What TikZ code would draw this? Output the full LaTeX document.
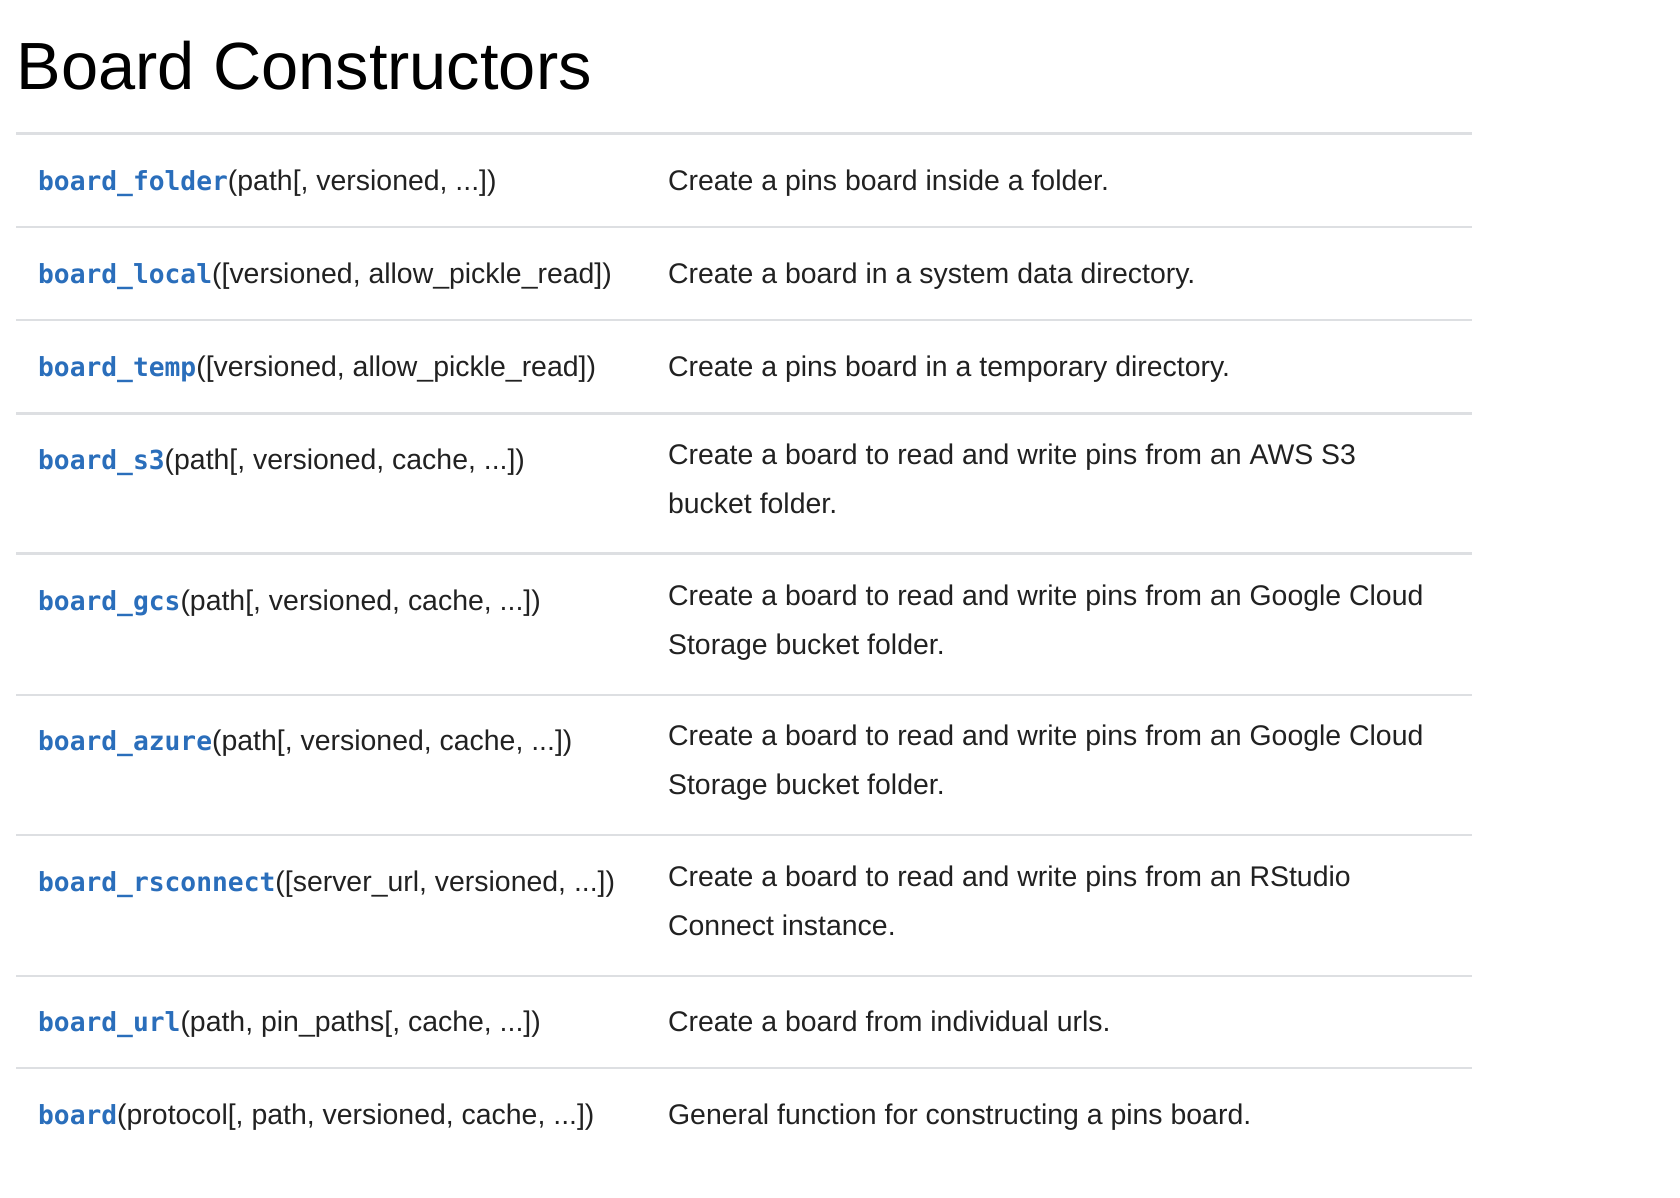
\documentclass[tikz,border=0pt]{standalone}
\usepackage{fontspec}
\setmainfont{Liberation Sans}
\newfontfamily\codefont{DejaVu Sans Mono}
\definecolor{codeblue}{HTML}{2A6EBB}
\definecolor{txt}{HTML}{212121}
\definecolor{rule}{HTML}{DDDFE2}
\newcommand\fnc[1]{{\codefont\bfseries\fontsize{12.2}{15}\selectfont\color{codeblue}#1}}
\begin{document}
\begin{tikzpicture}[x=0.5pt,y=-0.5pt,
  txtnode/.style={anchor=base west,inner sep=0pt,font=\fontsize{13.2}{22.5}\selectfont,text=txt},
  desc/.style={txtnode,align=left},
  sep/.style={draw=rule,line width=1pt}]
\useasboundingbox (0,0) rectangle (1560,1112);
\node[anchor=base west,inner sep=0pt,font=\fontsize{31}{36}\selectfont,text=black] (title) at (15,83) {Board Constructors};
\foreach \y [count=\i] in {124,211,297,384,514,645,775,906,992}
  \draw[sep] (15,\y) coordinate (l\i) -- (1367,\y) coordinate (r\i);
\node[txtnode] (c1) at (35,177) {\fnc{board\_folder}(path[, versioned, ...])};
\node[desc] (d1) at (620,177) {Create a pins board inside a folder.};
\node[txtnode] (c2) at (35,263) {\fnc{board\_local}([versioned, allow\_pickle\_read])};
\node[desc] (d2) at (620,263) {Create a board in a system data directory.};
\node[txtnode] (c3) at (35,350) {\fnc{board\_temp}([versioned, allow\_pickle\_read])};
\node[desc] (d3) at (620,350) {Create a pins board in a temporary directory.};
\node[txtnode] (c4) at (35,436) {\fnc{board\_s3}(path[, versioned, cache, ...])};
\node[desc,anchor=north west] (d4) at (620,412) {Create a board to read and write pins from an AWS S3\\bucket folder.};
\node[txtnode] (c5) at (35,567) {\fnc{board\_gcs}(path[, versioned, cache, ...])};
\node[desc,anchor=north west] (d5) at (620,543) {Create a board to read and write pins from an Google Cloud\\Storage bucket folder.};
\node[txtnode] (c6) at (35,697) {\fnc{board\_azure}(path[, versioned, cache, ...])};
\node[desc,anchor=north west] (d6) at (620,673) {Create a board to read and write pins from an Google Cloud\\Storage bucket folder.};
\node[txtnode] (c7) at (35,828) {\fnc{board\_rsconnect}([server\_url, versioned, ...])};
\node[desc,anchor=north west] (d7) at (620,804) {Create a board to read and write pins from an RStudio\\Connect instance.};
\node[txtnode] (c8) at (35,958) {\fnc{board\_url}(path, pin\_paths[, cache, ...])};
\node[desc] (d8) at (620,958) {Create a board from individual urls.};
\node[txtnode] (c9) at (35,1044) {\fnc{board}(protocol[, path, versioned, cache, ...])};
\node[desc] (d9) at (620,1044) {General function for constructing a pins board.};
\end{tikzpicture}
\end{document}
